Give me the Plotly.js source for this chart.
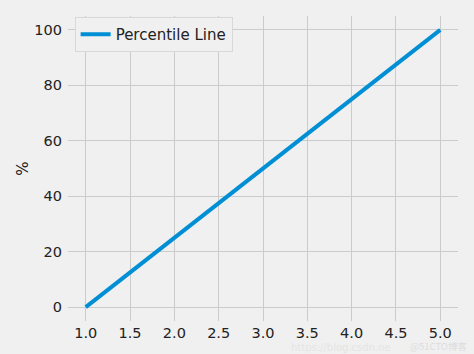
<!DOCTYPE html>
<html><head><meta charset="utf-8">
<script src="https://cdn.plot.ly/plotly-3.0.1.min.js"></script>
<style>html,body{margin:0;padding:0;background:#f0f0f0;}#chart{width:474px;height:354px;}</style>
</head><body><div id="chart"></div>
<script>
const xValues = [1, 2, 3, 4, 5];
const percentValues = [0, 25, 50, 75, 100];
const seriesName = "Percentile Line";
const xTicks = [1.0, 1.5, 2.0, 2.5, 3.0, 3.5, 4.0, 4.5, 5.0];
const xTickText = ["1.0", "1.5", "2.0", "2.5", "3.0", "3.5", "4.0", "4.5", "5.0"];
const yTicks = [0, 20, 40, 60, 80, 100];
const yTitle = "%";
const watermark1 = "https://blog.csdn.ne";
const watermark2 = "@51CTO博客";

const font = {family: "DejaVu Sans, sans-serif", size: 14.5, color: "#222"};
Plotly.newPlot("chart", [{
  x: xValues, y: percentValues, mode: "lines", name: seriesName,
  line: {color: "#008fd5", width: 4}
}], {
  width: 474, height: 354,
  paper_bgcolor: "#f0f0f0", plot_bgcolor: "#f0f0f0",
  margin: {l: 68, r: 16, t: 16, b: 33},
  font: font,
  showlegend: true,
  legend: {x: 0.017, y: 0.997, xanchor: "left", yanchor: "top",
    bgcolor: "#f0f0f0", bordercolor: "#d8d8d8", borderwidth: 1,
    font: {family: font.family, size: 15, color: "#222"}},
  xaxis: {range: [0.8, 5.2], tickvals: xTicks, ticktext: xTickText,
    showgrid: true, gridcolor: "#cbcbcb", gridwidth: 1, zeroline: false,
    showline: false, ticks: "", ticklabelstandoff: 1, tickfont: font},
  yaxis: {range: [-5, 105], tickvals: yTicks,
    showgrid: true, gridcolor: "#cbcbcb", gridwidth: 1, zeroline: false,
    showline: false, ticks: "", ticklabelstandoff: 5, tickfont: font,
    title: {text: yTitle, font: {family: font.family, size: 15, color: "#222"}, standoff: 2}},
  annotations: [
    {text: watermark1, xref: "paper", yref: "paper", x: 0.831, y: -0.108,
     xanchor: "right", yanchor: "bottom", showarrow: false, borderpad: 0,
     font: {family: "DejaVu Sans", size: 10, color: "#e4e4e4"}},
    {text: watermark2, xref: "paper", yref: "paper", x: 1.026, y: -0.108,
     xanchor: "right", yanchor: "bottom", showarrow: false, borderpad: 0,
     font: {family: "Noto Sans CJK SC, DejaVu Sans", size: 9.5, color: "#dcdcdc"}}
  ]
}, {displayModeBar: false, staticPlot: true});
</script></body></html>
